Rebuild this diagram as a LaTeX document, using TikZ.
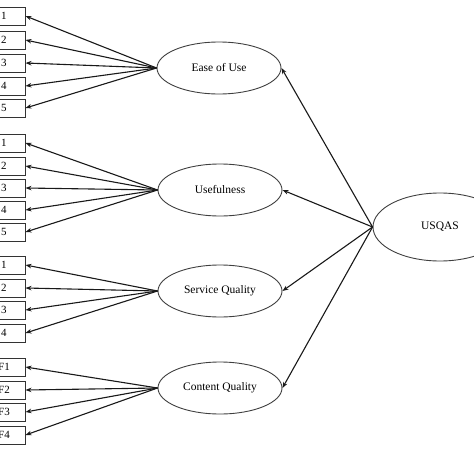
\documentclass[tikz,border=0pt]{standalone}
\usepackage{fontspec}
\setmainfont{Liberation Serif}
\usetikzlibrary{shapes.geometric,arrows.meta}
\tikzset{
  itembox/.style={draw=black!80, line width=1pt, rectangle, minimum width=42pt, minimum height=18pt, inner sep=0pt, font=\fontsize{11}{12}\selectfont},
  factor/.style={draw=black!75, line width=0.9pt, ellipse, minimum width=124pt, minimum height=52pt, inner sep=0pt, font=\fontsize{11.5}{13}\selectfont},
  arr/.style={draw=black!90, line width=1.1pt, -{Stealth[length=6pt,width=4.5pt]}}
}
\begin{document}
\begin{tikzpicture}[x=1pt,y=-1pt]
\useasboundingbox (0,0) rectangle (474,474);
\fill[white] (0,0) rectangle (474,474);
\clip (0,0) rectangle (474,474);
% factors
\node[factor] (eou) at (219,68) {Ease of Use};
\node[factor] (use) at (220,190) {Usefulness};
\node[factor] (sq) at (220,291) {Service Quality};
\node[factor] (cq) at (220,388) {Content Quality};
\node[factor, minimum width=134pt, minimum height=68pt] (usqas) at (440,227) {USQAS};
% items
\node[itembox] (a1) at (4,16) {1};
\node[itembox] (a2) at (4,40) {2};
\node[itembox] (a3) at (4,63) {3};
\node[itembox] (a4) at (4,86) {4};
\node[itembox] (a5) at (4,108) {5};
\node[itembox] (b1) at (4,143) {1};
\node[itembox] (b2) at (4,166) {2};
\node[itembox] (b3) at (4,188) {3};
\node[itembox] (b4) at (4,210) {4};
\node[itembox] (b5) at (4,232) {5};
\node[itembox] (c1) at (4,265) {1};
\node[itembox] (c2) at (4,288) {2};
\node[itembox] (c3) at (4,310) {3};
\node[itembox] (c4) at (4,333) {4};
\node[itembox] (d1) at (4,367) {F1};
\node[itembox] (d2) at (4,390) {F2};
\node[itembox] (d3) at (4,412) {F3};
\node[itembox] (d4) at (4,435) {F4};
% arrows
\foreach \i in {1,...,5} {\draw[arr] (eou.west) -- (a\i.east);}
\foreach \i in {1,...,5} {\draw[arr] (use.west) -- (b\i.east);}
\foreach \i in {1,...,4} {\draw[arr] (sq.west) -- (c\i.east);}
\foreach \i in {1,...,4} {\draw[arr] (cq.west) -- (d\i.east);}
\foreach \f in {eou,use,sq,cq} {\draw[arr] (usqas.west) -- (\f.east);}
\end{tikzpicture}
\end{document}
